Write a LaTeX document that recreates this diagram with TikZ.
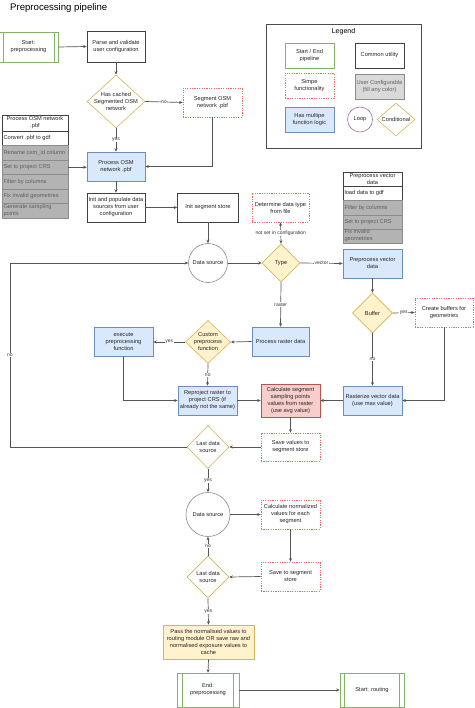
\documentclass[tikz,border=0pt]{standalone}
\usepackage{fontspec}
\setmainfont{Liberation Sans}
\usetikzlibrary{shapes.geometric,arrows.meta,calc}
\hyphenpenalty=10000
\exhyphenpenalty=10000
\definecolor{bluef}{HTML}{DAE8FC}
\definecolor{blued}{HTML}{6C8EBF}
\definecolor{greend}{HTML}{82B366}
\definecolor{redd}{HTML}{EA6B66}
\definecolor{redf}{HTML}{F8CECC}
\definecolor{redb}{HTML}{B85450}
\definecolor{yelf}{HTML}{FFF2CC}
\definecolor{yeld}{HTML}{D6B656}
\definecolor{purd}{HTML}{9673A6}
\definecolor{grayf}{HTML}{B3B3B3}
\definecolor{grayt}{HTML}{606060}
\definecolor{lnc}{HTML}{555555}
\tikzset{
 txt/.style={font=\fontsize{5.7}{7}\selectfont, align=flush center, text=black!85},
 bx/.style 2 args={txt, rectangle, minimum width=#1, minimum height=#2,
   /utils/exec={\pgfmathsetlengthmacro\mytw{#1-3}}, text width=\mytw, inner xsep=1.5pt, inner ysep=0.5pt},
 plainbox/.style={draw=black!75, fill=white, line width=0.6pt},
 bluebox/.style={draw=blued, fill=bluef, line width=0.6pt},
 dashbox/.style={draw=redd, fill=white, dash pattern=on 1.2pt off 1.2pt, line width=0.6pt},
 redbox/.style={draw=redb, fill=redf, line width=0.6pt},
 yelbox/.style={draw=yeld, fill=yelf, line width=0.6pt},
 greenbox/.style={draw=greend, fill=white, line width=0.6pt},
 procbox/.style={greenbox, path picture={
   \draw[greend, line width=0.6pt] ($(path picture bounding box.north west)+(#1,0)$) -- ($(path picture bounding box.south west)+(#1,0)$);
   \draw[greend, line width=0.6pt] ($(path picture bounding box.north east)+(-#1,0)$) -- ($(path picture bounding box.south east)+(-#1,0)$);}},
 dia/.style 2 args={diamond, minimum width=#1, minimum height=#2, inner sep=0pt, line width=0.6pt},
 ydia/.style={draw=yeld, fill=yelf},
 wdia/.style={draw=yeld, fill=white},
 loopc/.style={circle, draw=black!45, fill=white, line width=0.6pt, inner sep=0pt, txt},
 lhead/.style={plainbox},
 lrow/.style={plainbox, align=flush left},
 lgray/.style={draw=black!45, fill=grayf, text=grayt, line width=0.6pt, align=flush left},
 arr/.style={draw=lnc, line width=0.7pt, -{Stealth[length=3.5pt,width=3pt]}},
 arrb/.style={draw=lnc, line width=0.7pt, {Stealth[length=3.5pt,width=3pt]}-{Stealth[length=3.5pt,width=3pt]}},
 lab/.style={font=\fontsize{5}{6}\selectfont, fill=white, inner sep=0.6pt, text=black!80},
 every label/.style={txt}
}
\begin{document}
\begin{tikzpicture}[x=1pt,y=-1pt]
\useasboundingbox[fill=white] (0,0) rectangle (474,708);
\node[anchor=west, font=\fontsize{9.6}{11}\selectfont, inner sep=0pt] (title) at (10,8) {Preprocessing pipeline};

% Legend
\node[draw=black!70, line width=0.6pt, minimum width=155, minimum height=124] (legend) at (343.5,86) {};
\node[font=\fontsize{7}{8}\selectfont] (legendt) at (343.5,32) {Legend};
\node[bx={49}{25}, greenbox, line width=0.8pt] (lg1) at (309.5,55.5) {Start / End pipeline};
\node[bx={49}{25}, plainbox] (lg2) at (379.5,55.5) {Common utility};
\node[bx={49}{25}, dashbox] (lg3) at (309.5,86) {Simpe functionality};
\node[bx={49}{25}, text width=49pt, inner xsep=0pt, draw=black!45, fill=black!15, text=grayt, line width=0.6pt] (lg4) at (379.5,86.5) {User Configurable (fill any color)};
\node[bx={49}{25}, bluebox] (lg5) at (309.5,119.5) {Has multipe function logic};
\node[circle, draw=purd, fill=white, line width=0.6pt, minimum size=25, inner sep=0pt, txt] (lg6) at (360,119.5) {Loop};
\node[dia={38}{33}, wdia, label={center:Conditional}] (lg7) at (396,119.5) {};

% Top flow
\node[bx={59}{30}, procbox=4] (start) at (28.5,47) {Start:\\preprocessing};
\node[bx={58}{31}, plainbox] (parse) at (116,46.5) {Parse and validate user configuration};
\node[dia={58}{53}, wdia, label={center:Has cached\\Segmented OSM\\network}] (cached) at (116,101.5) {};
\node[bx={59}{29}, dashbox] (segosm) at (212.5,102.5) {Segment OSM network .pbf};
\node[bx={58}{29}, bluebox] (posm) at (116,166.5) {Process OSM network .pbf};

% OSM list
\node[bx={66}{16}, lhead] (oh) at (35,123) {Process OSM network .pbf};
\node[bx={66}{14.5}, lrow] (o1) at (35,138.25) {Convert .pbf to gdf};
\node[bx={66}{14.5}, lgray] (o2) at (35,152.75) {Rename osm\_id column};
\node[bx={66}{14.5}, lgray] (o3) at (35,167.25) {Set to project CRS};
\node[bx={66}{14.5}, lgray] (o4) at (35,181.75) {Filter by columns};
\node[bx={66}{14.5}, lgray] (o5) at (35,196.25) {Fix invalid geometries};
\node[bx={66}{14.5}, lgray] (o6) at (35,210.75) {Generate sampling points};

\node[bx={58}{29}, text width=57pt, inner xsep=0.5pt, plainbox] (initpop) at (116,207.5) {Init and populate data sources from user configuration};
\node[bx={61}{29}, plainbox] (initseg) at (208,207.5) {Init segment store};
\node[loopc, minimum size=39] (ds1) at (208,263) {Data source};
\node[bx={57}{29}, dashbox] (dettype) at (280.5,207.5) {Determine data type from file};
\node[dia={38}{38}, ydia, label={center:Type}] (type) at (281,263) {};

% vector list
\node[bx={59}{14}, lhead] (vh) at (372.5,179) {Preprocess vector data};
\node[bx={59}{14.5}, lrow] (v1) at (372.5,193.25) {load data to gdf};
\node[bx={59}{14.5}, lgray] (v2) at (372.5,207.75) {Filter by columns};
\node[bx={59}{14}, lgray] (v3) at (372.5,222) {Set to project CRS};
\node[bx={59}{14}, lgray] (v4) at (372.5,236) {Fix invalid\\geometries};

\node[bx={59}{29}, bluebox] (pvec) at (372.5,263.5) {Preprocess vector data};
\node[bx={57}{29}, bluebox] (praster) at (280.5,341.5) {Process raster data};
\node[dia={40}{40}, ydia, label={center:Buffer}] (buffer) at (372.5,313) {};
\node[bx={58}{29}, dashbox] (cbuf) at (444,312.5) {Create buffers for geometries};
\node[bx={59}{29}, bluebox] (rast) at (372.5,400.5) {Rasterize vector data (use max value)};
\node[bx={59}{33}, redbox] (calc) at (290.5,400.5) {Calculate segment sampling points values from raster (use avg value)};
\node[dia={45}{43}, ydia, label={center:Custom\\preprocess\\function}] (custom) at (208,342) {};
\node[bx={59}{29}, bluebox] (exec) at (123.5,342) {execute preprocessing function};
\node[bx={59}{29}, bluebox] (reproj) at (207.5,400.5) {Reproject raster to project CRS (if already not the same)};
\node[bx={59}{28}, dashbox] (save1) at (290.5,447) {Save values to segment store};
\node[dia={42}{43}, wdia, label={center:Last data\\source}] (last1) at (208,447) {};
\node[loopc, minimum size=44] (ds2) at (208,514.5) {Data source};
\node[bx={59}{29}, dashbox] (calcn) at (290.5,514.5) {Calculate normalized values for each segment};
\node[bx={59}{29}, dashbox] (save2) at (290.5,576.5) {Save to segment store};
\node[dia={42}{42}, wdia, label={center:Last data\\source}] (last2) at (208,577) {};
\node[bx={91}{34}, yelbox] (pass) at (208.5,642) {Pass the normalised values to routing module OR save raw and normalised exposure values to cache};
\node[bx={62}{34}, procbox=5.5] (endp) at (208,690) {End:\\preprocessing};
\node[bx={64}{34}, procbox=4.5] (routing) at (372,690) {Start: routing};

\coordinate (lp1) at (10,447);
\coordinate (lp2) at (10,263);

% connectors
\draw[arr] (start.east) -- (parse.west);
\draw[arr] (parse.south) -- (cached.north);
\draw[arr] (cached.east) -- node[lab]{no} (segosm.west);
\draw[arr] (cached.south) -- node[lab]{yes} (posm.north);
\draw[arr] (segosm.south) |- (posm.east);
\draw[arr] (o3.east) -- (o3.east -| posm.west);
\draw[arr] (posm.south) -- (initpop.north);
\draw[arr] (initpop.east) -- (initseg.west);
\draw[arr] (initseg.south) -- (ds1.north);
\draw[arr] (ds1.east) -- (type.west);
\draw[arrb] (type.north) -- node[lab]{not set in configuration} (dettype.south);
\draw[arr] (type.east) -- node[lab]{vector} (pvec.west);
\draw[arr] (type.south) -- node[lab]{raster} (praster.north);
\draw[arr] (pvec.south) -- (buffer.north);
\draw[arr] (buffer.east) -- node[lab]{yes} (cbuf.west);
\draw[arr] (buffer.south) -- node[lab]{no} (rast.north);
\draw[arr] (cbuf.south) |- (rast.east);
\draw[arr] (rast.west) -- (calc.east);
\draw[arr] (praster.west) -- (custom.east);
\draw[arr] (custom.west) -- node[lab]{yes} (exec.east);
\draw[arr] (custom.south) -- node[lab]{no} (reproj.north);
\draw[arr] (exec.south) |- (reproj.west);
\draw[arr] (reproj.east) -- (calc.west);
\draw[arr] (calc.south) -- (save1.north);
\draw[arr] (save1.west) -- (last1.east);
\draw[arr] (last1.west) -- (lp1) -- node[lab]{no} (lp2) -- (ds1.west);
\draw[arr] (last1.south) -- node[lab]{yes} (ds2.north);
\draw[arr] (ds2.east) -- (calcn.west);
\draw[arr] (calcn.south) -- (save2.north);
\draw[arr] (save2.west) -- (last2.east);
\draw[arr] (last2.north) -- node[lab]{no} (ds2.south);
\draw[arr] (last2.south) -- node[lab]{yes} (pass.north);
\draw[arr] (pass.south) -- (endp.north);
\draw[arr] (endp.east) -- (routing.west);
\end{tikzpicture}
\end{document}
